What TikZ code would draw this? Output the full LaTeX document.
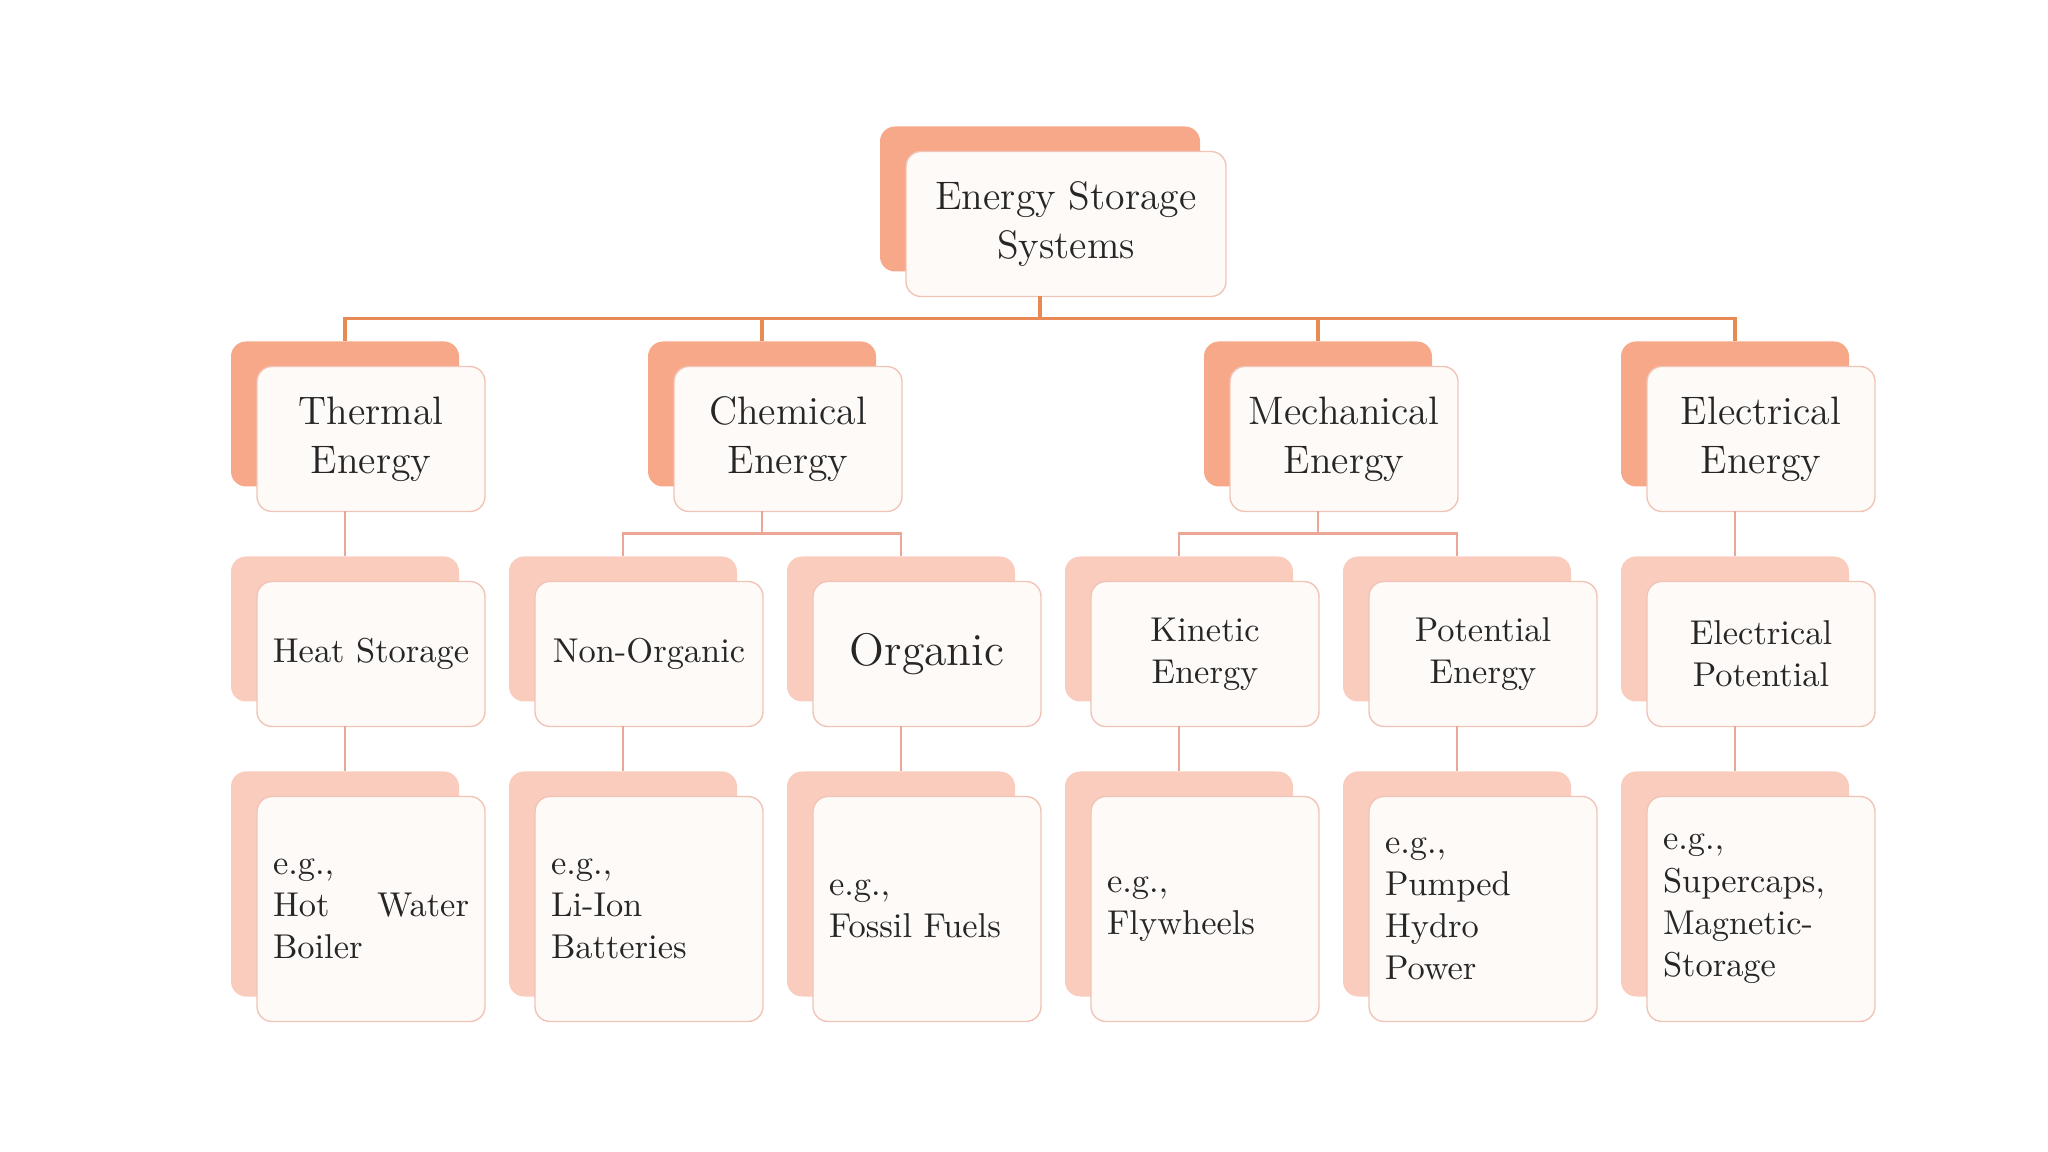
\documentclass[tikz,border=0pt]{standalone}
\usepackage{tikz}
\usetikzlibrary{calc,positioning,shadows}
\definecolor{backdark}{RGB}{246,168,136}
\definecolor{backlight}{RGB}{250,204,189}
\definecolor{cardfill}{RGB}{254,250,248}
\definecolor{cardline}{RGB}{240,196,182}
\definecolor{linkdark}{RGB}{232,138,84}
\definecolor{linklight}{RGB}{234,168,148}

\begin{document}
\begin{tikzpicture}[font=\fontsize{9.8}{12}\selectfont,node distance=5mm]
\tikzset{card/.style={draw=cardline,line width=0.4pt,outer sep=0pt,rounded corners=1.5mm,fill=cardfill,
minimum width=2.28cm,minimum height=1.45cm,align=center,text=black!85},
topcard/.style={card,font=\fontsize{11.3}{14}\selectfont,copy shadow={shadow xshift=-2.6mm,shadow yshift=2.5mm,fill=backdark,draw=none}},
midcard/.style={card,copy shadow={shadow xshift=-2.6mm,shadow yshift=2.5mm,fill=backlight,draw=none}},
excard/.style={midcard,minimum height=2.25cm,text width=1.96cm,inner xsep=1.6mm,align=left},
trunk/.style={draw=linkdark,line width=0.9pt},
twig/.style={draw=linklight,line width=0.8pt}}
\useasboundingbox (0,0) rectangle (20.48,-11.52);
% second row: subtypes
\node[midcard] (hs) at (3.71,-6.54) {Heat Storage};
\node[midcard,right=of hs] (no) {Non-Organic};
\node[midcard,right=of no,font=\fontsize{13}{15}\selectfont] (or) {Organic};
\node[midcard,right=of or] (ke) {Kinetic\\Energy};
\node[midcard,right=of ke] (pe) {Potential\\Energy};
\node[midcard,right=of pe] (ep) {Electrical\\Potential};
% examples
\node[excard,below=7mm of hs] (x1) {e.g.,\\Hot\hfill Water\\Boiler};
\node[excard,below=7mm of no] (x2) {e.g.,\\Li-Ion\\Batteries};
\node[excard,below=7mm of or] (x3) {e.g.,\\Fossil Fuels};
\node[excard,below=7mm of ke] (x4) {e.g.,\\Flywheels};
\node[excard,below=7mm of pe] (x5) {e.g.,\\Pumped\\Hydro\\Power};
\node[excard,below=7mm of ep] (x6) {e.g.,\\Supercaps,\\Magnetic-\\Storage};
% energy forms
\node[topcard,above=7mm of hs] (th) {Thermal\\Energy};
\node[topcard,above=7mm of $(no.north)!0.5!(or.north)$] (ch) {Chemical\\Energy};
\node[topcard,above=7mm of $(ke.north)!0.5!(pe.north)$] (me) {Mechanical\\Energy};
\node[topcard,above=7mm of ep] (el) {Electrical\\Energy};
\node[topcard,minimum width=3.2cm,above=7mm of $(th.north)!0.5!(el.north)$] (root) {Energy Storage\\Systems};
% links
\foreach \k in {th,ch,me,el}
  \draw[trunk] ([xshift=-2.6mm]root.south) -- ++(0,-0.22) -| ([xshift=-2.6mm,yshift=2.5mm]\k.north);
\foreach \p/\k in {ch/no,ch/or,me/ke,me/pe}
  \draw[twig] ([xshift=-2.6mm]\p.south) -- ++(0,-0.22) -| ([xshift=-2.6mm,yshift=2.5mm]\k.north);
\draw[twig] ([xshift=-2.6mm]th.south) -- ([xshift=-2.6mm,yshift=2.5mm]hs.north);
\draw[twig] ([xshift=-2.6mm]el.south) -- ([xshift=-2.6mm,yshift=2.5mm]ep.north);
\foreach \p/\k in {hs/x1,no/x2,or/x3,ke/x4,pe/x5,ep/x6}
  \draw[twig] ([xshift=-2.6mm]\p.south) -- ([xshift=-2.6mm,yshift=2.5mm]\k.north);
\end{tikzpicture}
\end{document}
